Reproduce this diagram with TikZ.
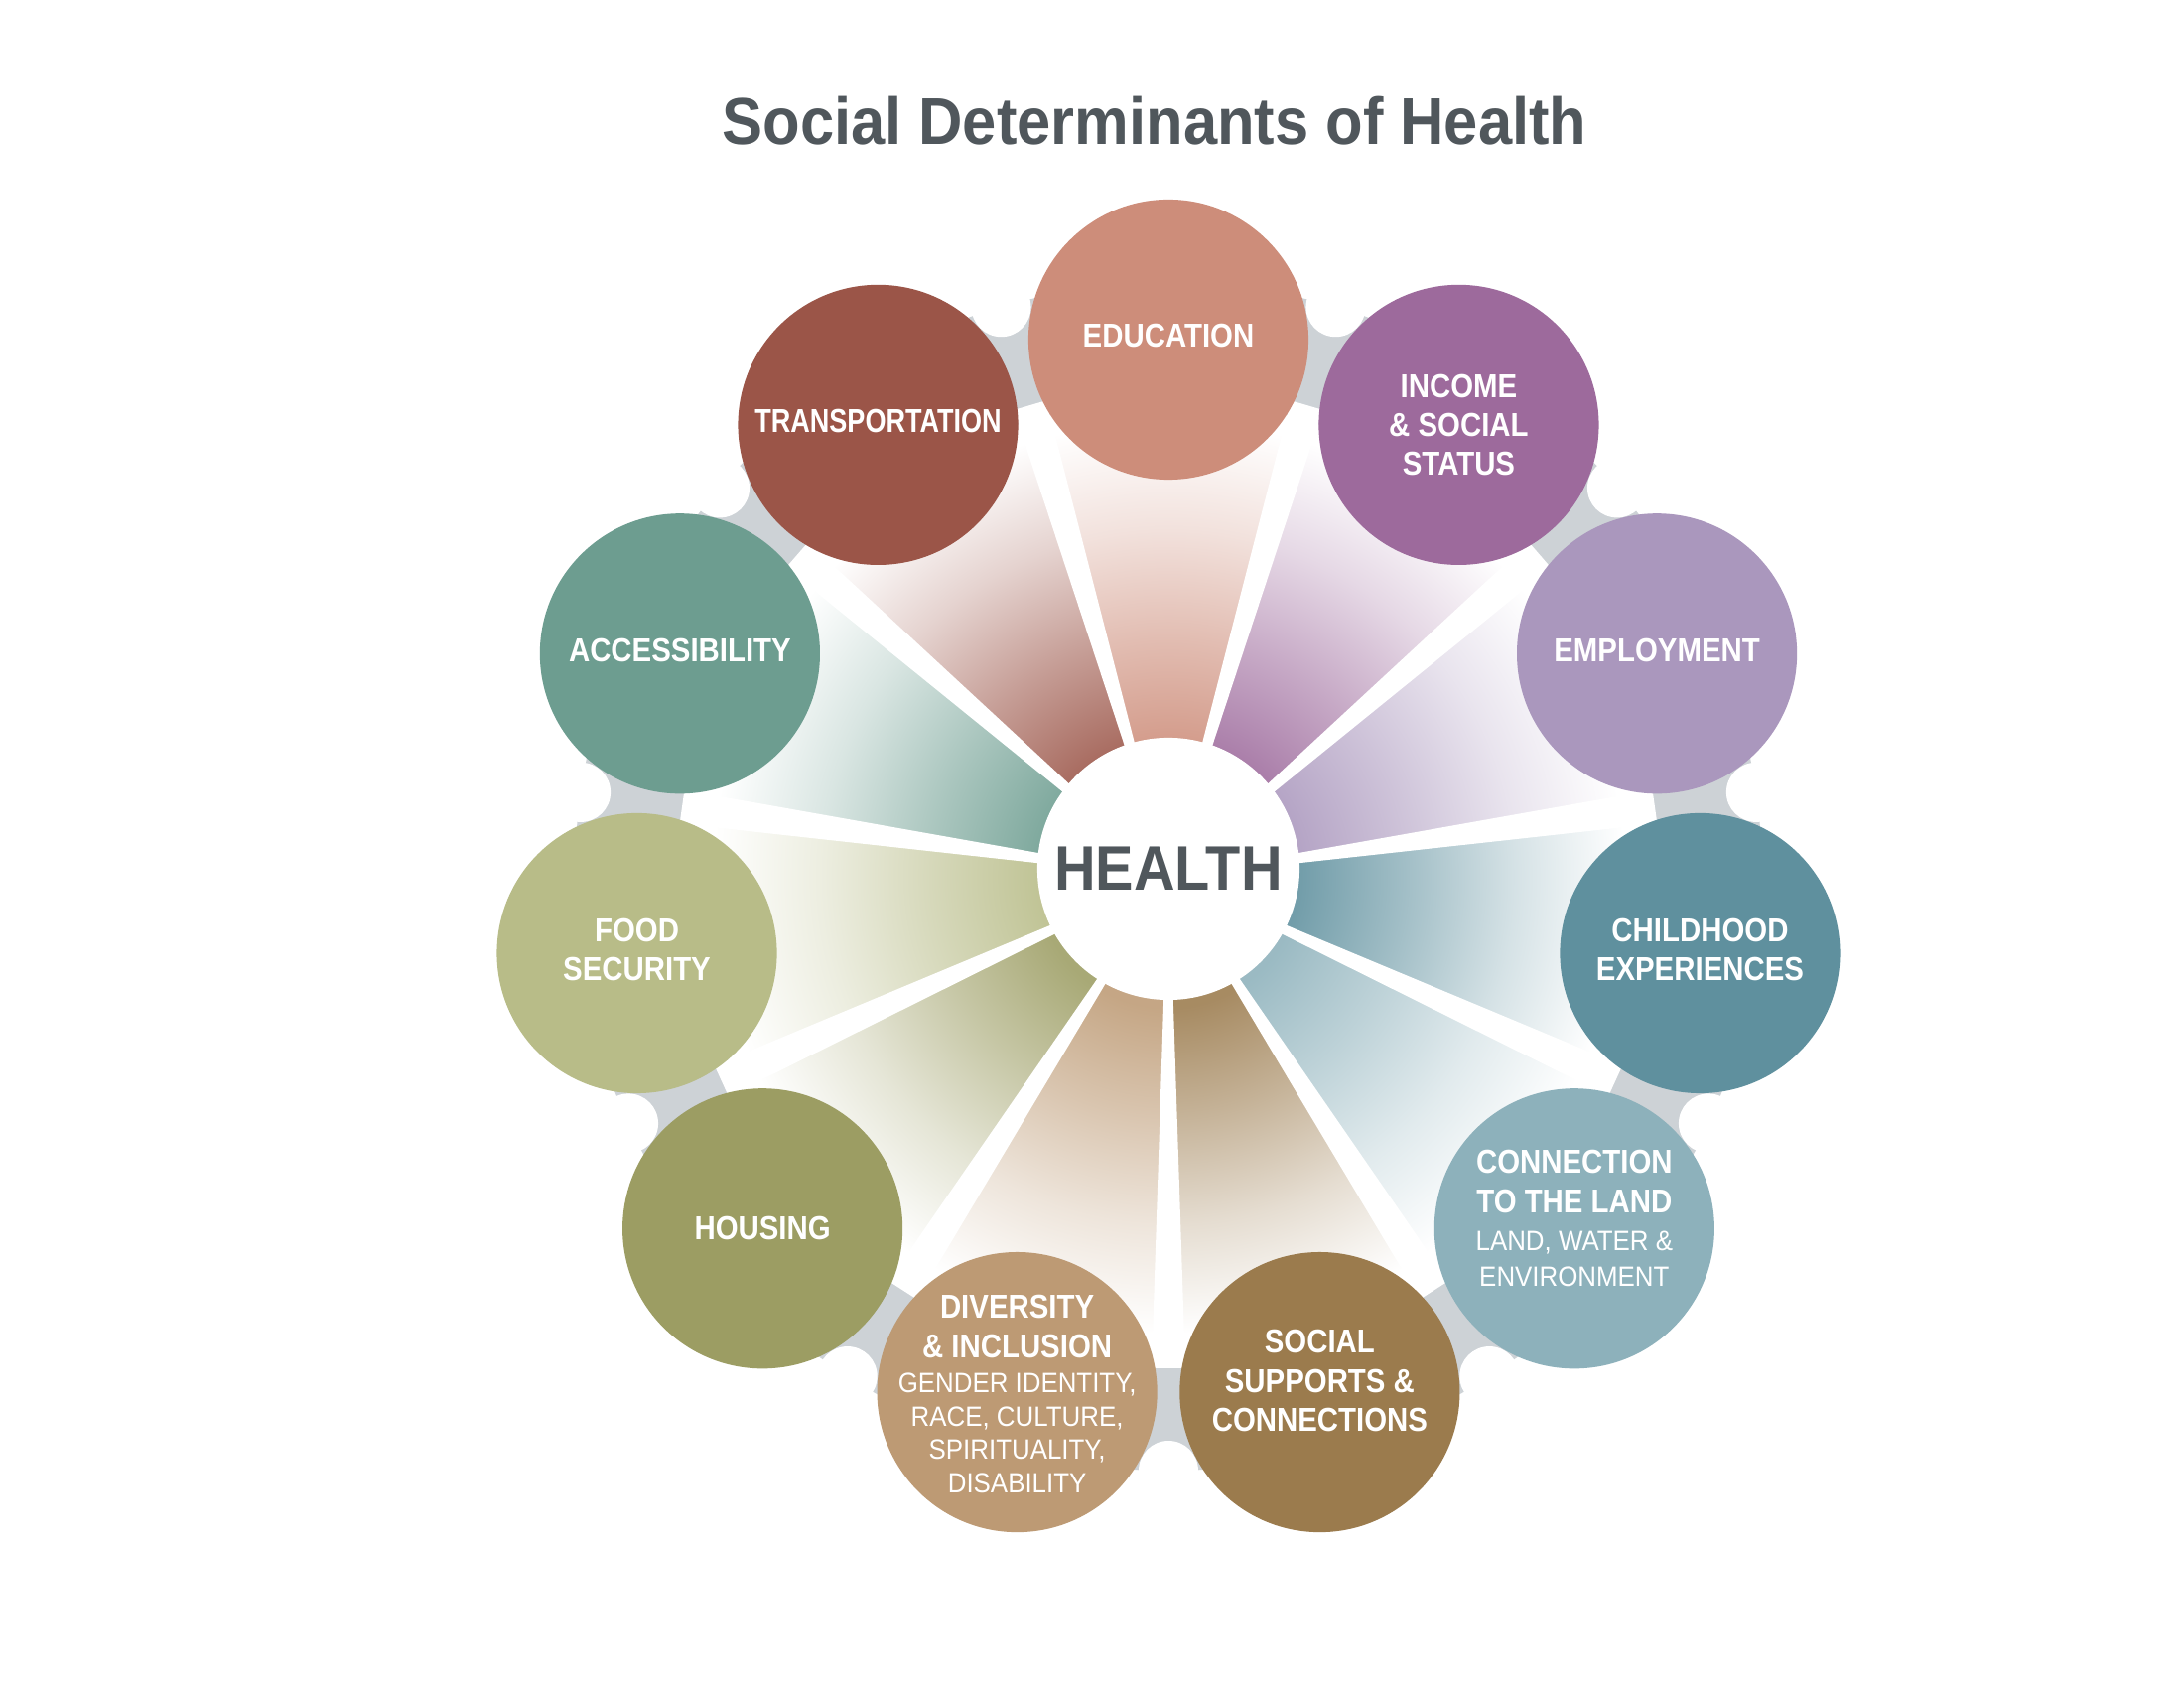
\documentclass[tikz,border=0pt]{standalone}
\usepackage{graphicx}
\usepackage{fontspec}
\setmainfont{Liberation Sans}
\newfontfamily\circfont[FakeStretch=0.88]{Liberation Sans}
\newfontfamily\subfont[FakeStretch=0.92]{Liberation Sans}
\newfontfamily\titlefont[FakeStretch=0.92]{Liberation Sans}
\definecolor{cEdu}{HTML}{CD8D7A}
\definecolor{cInc}{HTML}{9D6A9C}
\definecolor{cEmp}{HTML}{AA97BD}
\definecolor{cChi}{HTML}{5F909E}
\definecolor{cCon}{HTML}{8DB1BB}
\definecolor{cSoc}{HTML}{9B7B4D}
\definecolor{cDiv}{HTML}{BD9A74}
\definecolor{cHou}{HTML}{9C9D63}
\definecolor{cFoo}{HTML}{B8BC88}
\definecolor{cAcc}{HTML}{6D9D90}
\definecolor{cTra}{HTML}{9B5548}
\definecolor{ringgray}{HTML}{CDD2D6}
\definecolor{titlegray}{HTML}{50575C}
\colorlet{wcA}{white}
\colorlet{wcB}{white}
\colorlet{wcC}{white}
\pgfdeclareradialshading[wcA,wcB,wcC]{wedgeshade}{\pgfpoint{0bp}{0bp}}{color(0bp)=(wcA); color(6.6bp)=(wcA); color(12bp)=(wcB); color(17.5bp)=(wcC); color(23bp)=(white); color(50bp)=(white)}
\newcommand\subtxt[1]{{\subfont\mdseries\fontsize{8}{9.6}\selectfont #1}}
\begin{document}
\begin{tikzpicture}[x=0.01cm,y=0.01cm,
  factor/.style={circle, minimum size=2.82cm, inner sep=0pt, draw=none},
  factortext/.style={inner sep=0pt, text=white, align=center, yshift=1pt,
    font=\circfont\bfseries\fontsize{9.5}{11.2}\selectfont},
  spoke/.style={fill=white},
  fillet/.style={fill=white}]
\useasboundingbox (-1177,-817) rectangle (1023,883);
\fill[white] (-1177,-817) rectangle (1023,883);
% gray connecting band
\fill[ringgray, even odd rule] (0,0) circle (598) (0,0) circle (465);
\foreach \k in {0,...,10} {
  \pgfmathsetmacro\g{90-16.3636-32.7273*\k}
  \fill[fillet] (\g:465) circle (22);
  \fill[fillet] (\g:598) circle (30);
}
% gradient wedges
\foreach \c [count=\i from 0] in {cEdu,cInc,cEmp,cChi,cCon,cSoc,cDiv,cHou,cFoo,cAcc,cTra} {
  \pgfmathsetmacro\a{90-32.7273*\i}
  \pgfmathsetmacro\aa{\a-16.37}
  \pgfmathsetmacro\ab{\a+16.37}
  \colorlet{wcA}{\c!88!white}
  \colorlet{wcB}{\c!58!white}
  \colorlet{wcC}{\c!26!white}
  \begin{scope}
    \clip (0,0) -- (\aa:480) arc[start angle=\aa, end angle=\ab, radius=480] -- cycle;
    \shade[shading=wedgeshade] (0,0) circle (500);
  \end{scope}
}
% white spokes
\foreach \k in {0,...,10} {
  \pgfmathsetmacro\g{90-16.3636-32.7273*\k}
  \fill[spoke, rotate=\g] (100,-4) -- (495,-17) -- (495,17) -- (100,4) -- cycle;
}
% factor circles
\node[factor, fill=cEdu] (edu) at (90:541) {};
\node[factor, fill=cInc] (inc) at (57.2727:541) {};
\node[factor, fill=cEmp] (emp) at (24.5455:541) {};
\node[factor, fill=cChi] (chi) at (-8.1818:541) {};
\node[factor, fill=cCon] (con) at (-40.9091:541) {};
\node[factor, fill=cSoc] (soc) at (-73.6364:541) {};
\node[factor, fill=cDiv] (div) at (-106.3636:541) {};
\node[factor, fill=cHou] (hou) at (-139.0909:541) {};
\node[factor, fill=cFoo] (foo) at (-171.8182:541) {};
\node[factor, fill=cAcc] (acc) at (155.4545:541) {};
\node[factor, fill=cTra] (tra) at (122.7273:541) {};
% factor labels
\node[factortext] (edu-t) at (edu) {EDUCATION};
\node[factortext, yshift=-1pt] (inc-t) at (inc) {INCOME\\\& SOCIAL\\STATUS};
\node[factortext] (emp-t) at (emp) {EMPLOYMENT};
\node[factortext] (chi-t) at (chi) {CHILDHOOD\\EXPERIENCES};
\node[factortext, yshift=1.8pt] (con-t) at (con) {CONNECTION\\TO THE LAND\\[-0.4pt]\subtxt{LAND, WATER \&}\\[-0.8pt]\subtxt{ENVIRONMENT}};
\node[factortext, yshift=2.2pt] (soc-t) at (soc) {SOCIAL\\SUPPORTS \&\\CONNECTIONS};
\node[factortext, yshift=-1.6pt] (div-t) at (div) {DIVERSITY\\\& INCLUSION\\[-1.2pt]\subtxt{GENDER IDENTITY,}\\[-1.6pt]\subtxt{RACE, CULTURE,}\\[-1.6pt]\subtxt{SPIRITUALITY,}\\[-1.6pt]\subtxt{DISABILITY}};
\node[factortext, yshift=-1pt] (hou-t) at (hou) {HOUSING};
\node[factortext] (foo-t) at (foo) {FOOD\\SECURITY};
\node[factortext] (acc-t) at (acc) {ACCESSIBILITY};
\node[factortext] (tra-t) at (tra) {\scalebox{0.92}[1]{TRANSPORTATION}};
% center
\node[circle, fill=white, minimum size=2.64cm, inner sep=0pt, text=titlegray,
  font=\bfseries\fontsize{18}{20}\selectfont] (health) at (0,8) {\scalebox{0.91}[1]{HEALTH}};
% title
\node[font=\titlefont\bfseries\fontsize{19}{23}\selectfont, text=titlegray, anchor=base, inner sep=0pt]
  (title) at (-14,737) {Social Determinants of Health};
\end{tikzpicture}
\end{document}
